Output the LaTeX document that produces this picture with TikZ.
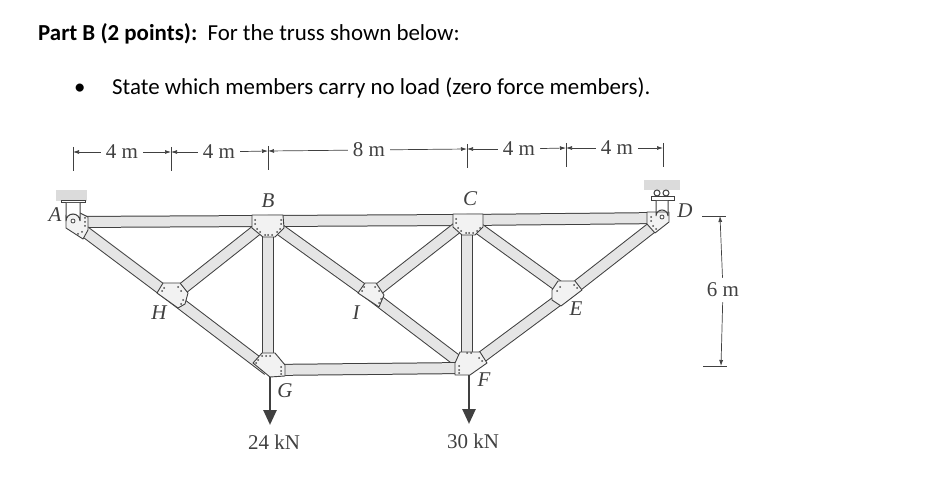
\documentclass[tikz,border=0pt]{standalone}
\usepackage{fontspec}
\setmainfont{Liberation Serif}
\newfontfamily\headfont{Carlito}
\usetikzlibrary{arrows.meta}
\definecolor{ink}{gray}{0.25}
\definecolor{barfill}{gray}{0.9}
\definecolor{platefill}{gray}{0.95}
\begin{document}
\begin{tikzpicture}[
  x=1pt, y=-1pt,
  member/.style={draw=ink, line width=1pt, double=barfill, double distance=10pt},
  gusset/.style={draw=ink, line width=0.9pt, fill=platefill, line join=round},
  rivet/.style={fill=black!70},
  wall/.style={fill=black!14},
  fitting/.style={draw=ink, line width=1pt, fill=white},
  head/.style={font=\headfont\fontsize{22.9}{26}\selectfont, anchor=base west, inner sep=0pt},
  dimtext/.style={font=\fontsize{21}{24}\selectfont, text=ink, inner sep=5pt},
  joint/.style={font=\itshape\fontsize{21}{24}\selectfont, text=ink, inner sep=0pt},
  tick/.style={draw=ink, line width=0.7pt},
  dim/.style={draw=ink, line width=0.7pt, -{Latex[length=6pt,width=4pt]}},
  shaft/.style={draw=ink, line width=2.6pt},
  load/.style={shaft, -{Triangle[length=15pt,width=13pt]}}
]
\useasboundingbox (0,0) rectangle (946,497);

% heading
\node[head] (title) at (38,41) {\textbf{Part B (2 points):}\hspace{0.45em}For the truss shown below:};
\node[head] (bullet) at (74,95) {•};
\node[head] (task) at (112,95) {State which members carry no load (zero force members).};

% joints
\coordinate (A) at (72,222);
\coordinate (B) at (268,221);
\coordinate (C) at (467,220);
\coordinate (D) at (664,218);
\coordinate (H) at (172,297);
\coordinate (I) at (371,295);
\coordinate (E) at (568,293);
\coordinate (G) at (268,370);
\coordinate (F) at (467,368);

% members
\draw[member, shorten <=12pt] (A) -- (B);
\draw[member] (B) -- (C);
\draw[member, shorten >=12pt] (C) -- (D);
\draw[member] (A) -- (H);
\draw[member] (H) -- (G);
\draw[member] (H) -- (B);
\draw[member] (B) -- (G);
\draw[member] (B) -- (I);
\draw[member] (I) -- (F);
\draw[member] (I) -- (C);
\draw[member] (C) -- (F);
\draw[member] (C) -- (E);
\draw[member] (E) -- (F);
\draw[member] (E) -- (D);
\draw[member] (G) -- (F);

% gusset plates
\draw[gusset] (252,215) -- (283,215) -- (284,228) -- (275,237) -- (263,237) -- (252,228) -- cycle;
\draw[gusset] (453,214) -- (483,214) -- (483,227) -- (475,235) -- (462,235) -- (453,227) -- cycle;
\draw[gusset] (163,283) -- (180,283) -- (188,293) -- (185,304) -- (178,308) -- (157,293) -- cycle;
\draw[gusset] (365,283) -- (376,283) -- (384,295) -- (379,307) -- (358,293) -- cycle;
\draw[gusset] (558,281) -- (575,281) -- (582,290) -- (561,306) -- (552,300) -- (552,290) -- cycle;
\draw[gusset] (262,353) -- (275,353) -- (285,365) -- (285,376) -- (270,377) -- (253,363) -- cycle;
\draw[gusset] (460,352) -- (480,352) -- (487,363) -- (470,375) -- (455,375) -- (455,363) -- cycle;
\draw[gusset] (66,215) -- (80,213) -- (88,217) -- (88,230) -- (83,239) -- (66,228) -- cycle;
\draw[gusset] (647,212) -- (669,212) -- (669,222) -- (655,233) -- (647,224) -- cycle;

% rivets
\foreach \x/\y in {255/220,255/224,257/229,260/232,265/235,268/235,272/235,277/232,280/229,281/224,281/220,
  456/219,456/223,458/228,461/231,466/233,469/233,473/233,477/231,480/228,
  164/288,162/291,178/287,181/291,183/300,181/304,
  364/287,362/291,375/287,379/291,381/299,379/303,
  560/287,557/291,574/285,577/288,
  262/356,266/356,270/356,258/360,256/363,281/367,281/371,281/374,
  459/366,459/370,459/373,467/353,471/353,479/358,482/361,
  85/218,85/222,85/226,82/232,78/234,
  651/217,651/221,653/226,656/229} {
  \fill[rivet] (\x,\y) circle (1);
}

% support at A
\fill[wall] (56,190) rectangle (87,201);
\draw[fitting] (61,201) rectangle (85,203);
\draw[fitting] (66,203) -- (66,221) arc[start angle=180, end angle=360, radius=7] -- (80,203);
\draw[ink, line width=0.8pt, fill=white] (73,221) circle (2);

% support at D
\fill[wall] (644,180) rectangle (680,190);
\draw[fitting] (657,193) circle (3);
\draw[fitting] (666,193) circle (3);
\draw[fitting] (651,197) rectangle (674,201);
\draw[fitting] (656,201) -- (656,216) arc[start angle=180, end angle=360, radius=6] -- (668,201);
\draw[ink, line width=0.8pt, fill=white] (662,217) circle (2);

% loads
\coordinate (Gtail) at (270,377);
\coordinate (Ftail) at (469,375);
\coordinate (Gneck) at (270,416);
\coordinate (Fneck) at (469,415);
\coordinate (Gload) at (270,425);
\coordinate (Fload) at (469,424);
\draw[shaft] (Gtail) -- (Gneck);
\draw[shaft] (Ftail) -- (Fneck);
\draw[load] (Gtail) -- (Gload);
\draw[load] (Ftail) -- (Fload);
\node[dimtext] (loadG) at (274,442) {24 kN};
\node[dimtext] (loadF) at (473,441) {30 kN};

% joint labels
\node[joint] (labA) at (55,215) {A};
\node[joint] (labB) at (268,201) {B};
\node[joint] (labC) at (470,199) {C};
\node[joint] (labD) at (685,211) {D};
\node[joint] (labH) at (159,313) {H};
\node[joint] (labI) at (356,313) {I};
\node[joint] (labE) at (576,309) {E};
\node[joint] (labF) at (484,380) {F};
\node[joint] (labG) at (285,391) {G};

% dimension ticks along the top
\coordinate (t1) at (73,152);
\coordinate (t2) at (171,152);
\coordinate (t3) at (268,151);
\coordinate (t4) at (467,149);
\coordinate (t5) at (566,148);
\coordinate (t6) at (663,148);
\foreach \n in {t1,t2,t3,t4,t5,t6} {
  \draw[tick] (\n) ++(0,-5) -- ++(0,24);
}
\node[dimtext] (d1) at (122,152) {4 m};
\node[dimtext] (d2) at (219,152) {4 m};
\node[dimtext] (d3) at (369,150) {8 m};
\node[dimtext] (d4) at (519,149) {4 m};
\node[dimtext] (d5) at (617,148) {4 m};
\draw[dim] (d1) -- (t1);
\draw[dim] (d1) -- (t2);
\draw[dim] (d2) -- (t2);
\draw[dim] (d2) -- (t3);
\draw[dim] (d3) -- (t3);
\draw[dim] (d3) -- (t4);
\draw[dim] (d4) -- (t4);
\draw[dim] (d4) -- (t5);
\draw[dim] (d5) -- (t5);
\draw[dim] (d5) -- (t6);

% height dimension
\coordinate (h1) at (720,216);
\coordinate (h2) at (721,366);
\draw[tick] (702,216) -- (726,216);
\draw[tick] (703,366) -- (727,366);
\node[dimtext] (d6) at (723,290) {6 m};
\draw[dim] (d6) -- (h1);
\draw[dim] (d6) -- (h2);
\end{tikzpicture}
\end{document}
